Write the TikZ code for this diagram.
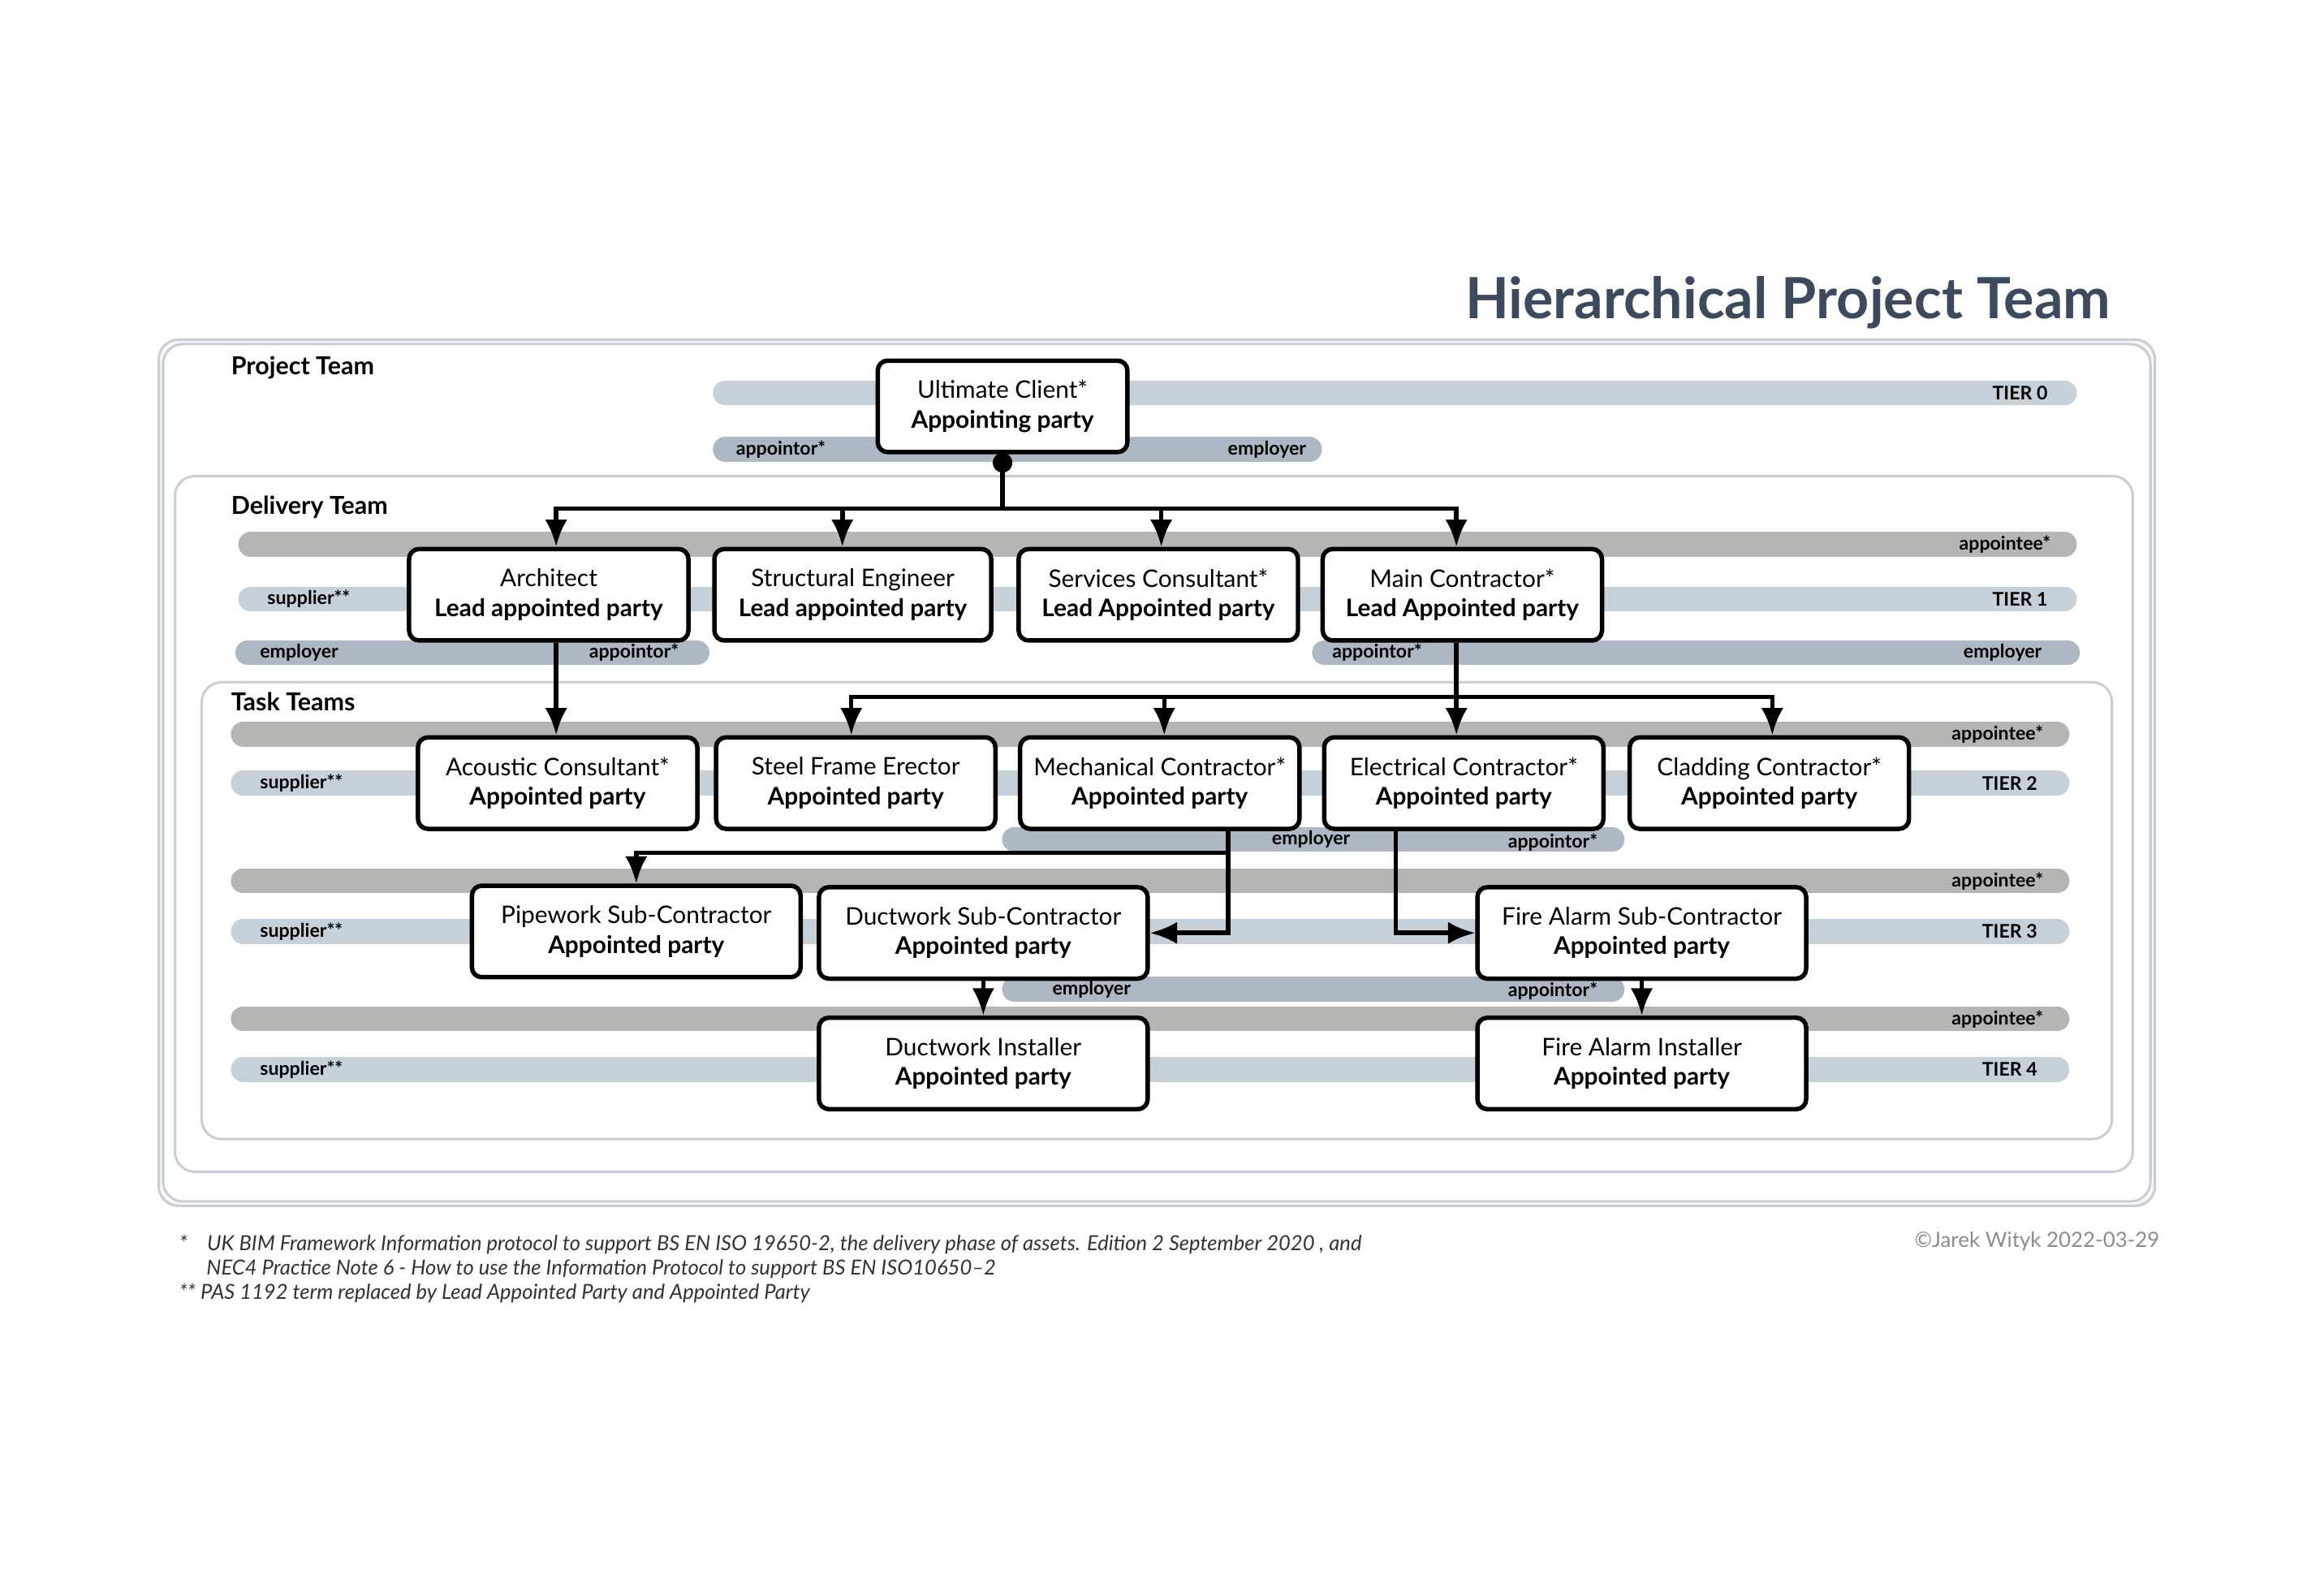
\documentclass[tikz,border=0pt]{standalone}
\usepackage{fontspec}
\setmainfont{Lato}
\usetikzlibrary{arrows.meta}
\definecolor{tierblue}{HTML}{C5D0D9}
\definecolor{roleblue}{HTML}{AEB8C5}
\definecolor{appgray}{HTML}{B5B5B3}
\definecolor{titleblue}{HTML}{3D4A5E}
\definecolor{framegray}{HTML}{C9CED6}
\tikzstyle{arrow} = [-{Latex[length=11pt,width=9pt]}, line width=1.8pt]
\tikzstyle{link} = [line width=1.8pt]
\tikzstyle{box} = [draw, line width=1.8pt, rounded corners=4pt, fill=white, align=center, font=\fontsize{9.8}{12}\selectfont, inner sep=0pt]
\tikzstyle{band} = [line width=10pt, line cap=round]
\tikzstyle{tag} = [font=\fontsize{7.6}{8}\selectfont\bfseries, inner sep=0pt]
\tikzstyle{frame} = [draw=framegray, line width=1pt, rounded corners=8pt, fill=white]
\tikzstyle{team} = [font=\fontsize{10}{12}\selectfont\bfseries, anchor=west]

\begin{document}
\begin{tikzpicture}[x=0.6pt, y=-0.6pt]
		\useasboundingbox (0,0) rectangle (1567,1058);
		\node [anchor=east, font=\fontsize{23}{26}\selectfont\bfseries, text=titleblue] (title) at (1429,204) {Hierarchical Project Team};
		
		% frames
		\draw [frame, fill=black!3] (107,229) rectangle (1453,813);
		\draw [frame] (110,232) rectangle (1450,810);
		\draw [frame] (118,321) rectangle (1438,790);
		\draw [frame] (136,460) rectangle (1424,768);
		\node [team] (pteam) at (150,248) {Project Team};
		\node [team] (dteam) at (150,342) {Delivery Team};
		\node [team] (tteam) at (150,473) {Task Teams};
		
		% tier 0
		\draw [band, tierblue] (489,265) -- (1392,265);
		\draw [band, roleblue] (489,303) -- (883,303);
		\node [tag, anchor=east] (t0) at (1381,265) {TIER 0};
		\node [tag, anchor=west] (ap0) at (496,303) {appointor*};
		\node [tag, anchor=east] (em0) at (881,303) {employer};
		
		% tier 1
		\draw [band, appgray] (169,367) -- (1392,367);
		\draw [band, tierblue] (169,404) -- (1392,404);
		\draw [band, roleblue] (167,440) -- (470,440);
		\draw [band, roleblue] (893,440) -- (1394,440);
		\node [tag, anchor=east] (ae1) at (1383,367) {appointee*};
		\node [tag, anchor=west] (su1) at (180,404) {supplier**};
		\node [tag, anchor=east] (t1) at (1381,404) {TIER 1};
		\node [tag, anchor=west] (em1) at (175,440) {employer};
		\node [tag, anchor=east] (ap1) at (458,440) {appointor*};
		\node [tag, anchor=west] (ap1b) at (898,440) {appointor*};
		\node [tag, anchor=east] (em1b) at (1377,440) {employer};
		
		% tier 2
		\draw [band, appgray] (164,495) -- (1387,495);
		\draw [band, tierblue] (164,528) -- (1387,528);
		\draw [band, roleblue] (684,566) -- (1087,566);
		\node [tag, anchor=east] (ae2) at (1378,495) {appointee*};
		\node [tag, anchor=west] (su2) at (175,528) {supplier**};
		\node [tag, anchor=east] (t2) at (1374,528) {TIER 2};
		\node [tag] (em2) at (884,566) {employer};
		\node [tag] (ap2) at (1047,568) {appointor*};
		
		% tier 3
		\draw [band, appgray] (164,594) -- (1387,594);
		\draw [band, tierblue] (164,628) -- (1387,628);
		\draw [band, roleblue] (684,667) -- (1087,667);
		\node [tag, anchor=east] (ae3) at (1378,594) {appointee*};
		\node [tag, anchor=west] (su3) at (175,628) {supplier**};
		\node [tag, anchor=east] (t3) at (1374,628) {TIER 3};
		\node [tag] (em3) at (736,667) {employer};
		\node [tag] (ap3) at (1047,668) {appointor*};
		
		% tier 4
		\draw [band, appgray] (164,687) -- (1387,687);
		\draw [band, tierblue] (164,721) -- (1387,721);
		\node [tag, anchor=east] (ae4) at (1378,687) {appointee*};
		\node [tag, anchor=west] (su4) at (175,721) {supplier**};
		\node [tag, anchor=east] (t4) at (1374,721) {TIER 4};
		
		% parties
		\node [box, minimum width=101pt, minimum height=37pt] (client) at (676,274) {Ultimate Client*\\\textbf{Appointing party}};
		\node [box, minimum width=113pt, minimum height=37pt] (arch) at (370,401) {Architect\\\textbf{Lead appointed party}};
		\node [box, minimum width=112pt, minimum height=37pt] (struct) at (575,401) {Structural Engineer\\\textbf{Lead appointed party}};
		\node [box, minimum width=113pt, minimum height=37pt] (serv) at (781,401) {Services Consultant*\\\textbf{Lead Appointed party}};
		\node [box, minimum width=113pt, minimum height=37pt] (main) at (986,401) {Main Contractor*\\\textbf{Lead Appointed party}};
		
		\node [box, minimum width=113pt, minimum height=37pt] (acou) at (376,528) {Acoustic Consultant*\\\textbf{Appointed party}};
		\node [box, minimum width=113pt, minimum height=37pt] (steel) at (577,528) {Steel Frame Erector\\\textbf{Appointed party}};
		\node [box, minimum width=113pt, minimum height=37pt] (mech) at (782,528) {Mechanical Contractor*\\\textbf{Appointed party}};
		\node [box, minimum width=113pt, minimum height=37pt] (elec) at (987,528) {Electrical Contractor*\\\textbf{Appointed party}};
		\node [box, minimum width=113pt, minimum height=37pt] (clad) at (1193,528) {Cladding Contractor*\\\textbf{Appointed party}};
		
		\node [box, minimum width=133pt, minimum height=37pt] (pipe) at (429,628) {Pipework Sub-Contractor\\\textbf{Appointed party}};
		\node [box, minimum width=133pt, minimum height=37pt] (ductsub) at (663,629) {Ductwork Sub-Contractor\\\textbf{Appointed party}};
		\node [box, minimum width=133pt, minimum height=37pt] (firesub) at (1107,629) {Fire Alarm Sub-Contractor\\\textbf{Appointed party}};
		\node [box, minimum width=133pt, minimum height=37pt] (ductins) at (663,717) {Ductwork Installer\\\textbf{Appointed party}};
		\node [box, minimum width=133pt, minimum height=37pt] (fireins) at (1107,717) {Fire Alarm Installer\\\textbf{Appointed party}};
		
		% appointments
		\coordinate (split0) at (676,343);
		\fill (676,312) circle (4pt);
		\draw [link] (client) -- (split0);
		\draw [arrow] (split0) -| (arch.north -| 375,0);
		\draw [arrow] (split0) -| (struct.north -| 568,0);
		\draw [arrow] (split0) -| (serv.north -| 783,0);
		\draw [arrow] (split0) -| (main.north -| 982,0);
		\draw [arrow] (arch.south -| 375,0) -- (acou.north -| 375,0);
		
		\coordinate (split1) at (982,470);
		\draw [arrow] (main.south -| 982,0) -- (elec.north -| 982,0);
		\draw [arrow] (split1) -| (steel.north -| 574,0);
		\draw [arrow] (split1) -| (mech.north -| 785,0);
		\draw [arrow] (split1) -| (clad.north -| 1195,0);
		
		\coordinate (mechout) at (828,559);
		\draw [arrow] (mechout) |- (ductsub.east);
		\draw [arrow] (mechout) |- (429,575) -- (pipe.north);
		\draw [arrow] (elec.south -| 941,0) |- (firesub.west);
		\draw [arrow] (ductsub) -- (ductins);
		\draw [arrow] (firesub) -- (fireins);
		
		% notes
		\node [anchor=north west, align=left, font=\fontsize{8.4}{9.8}\selectfont\itshape, text=black!80] (notes) at (115,827) {*\hspace{6pt} UK BIM Framework Information protocol to support BS EN ISO 19650-2, the delivery phase of assets. Edition 2 September 2020 , and\\\hspace{11pt}NEC4 Practice Note 6 - How to use the Information Protocol to support BS EN ISO10650--2\\** PAS 1192 term replaced by Lead Appointed Party and Appointed Party};
		\node [anchor=east, font=\fontsize{8.5}{10}\selectfont, text=black!45] (credit) at (1462,837) {©Jarek Wityk 2022-03-29};
	\end{tikzpicture}
\end{document}
